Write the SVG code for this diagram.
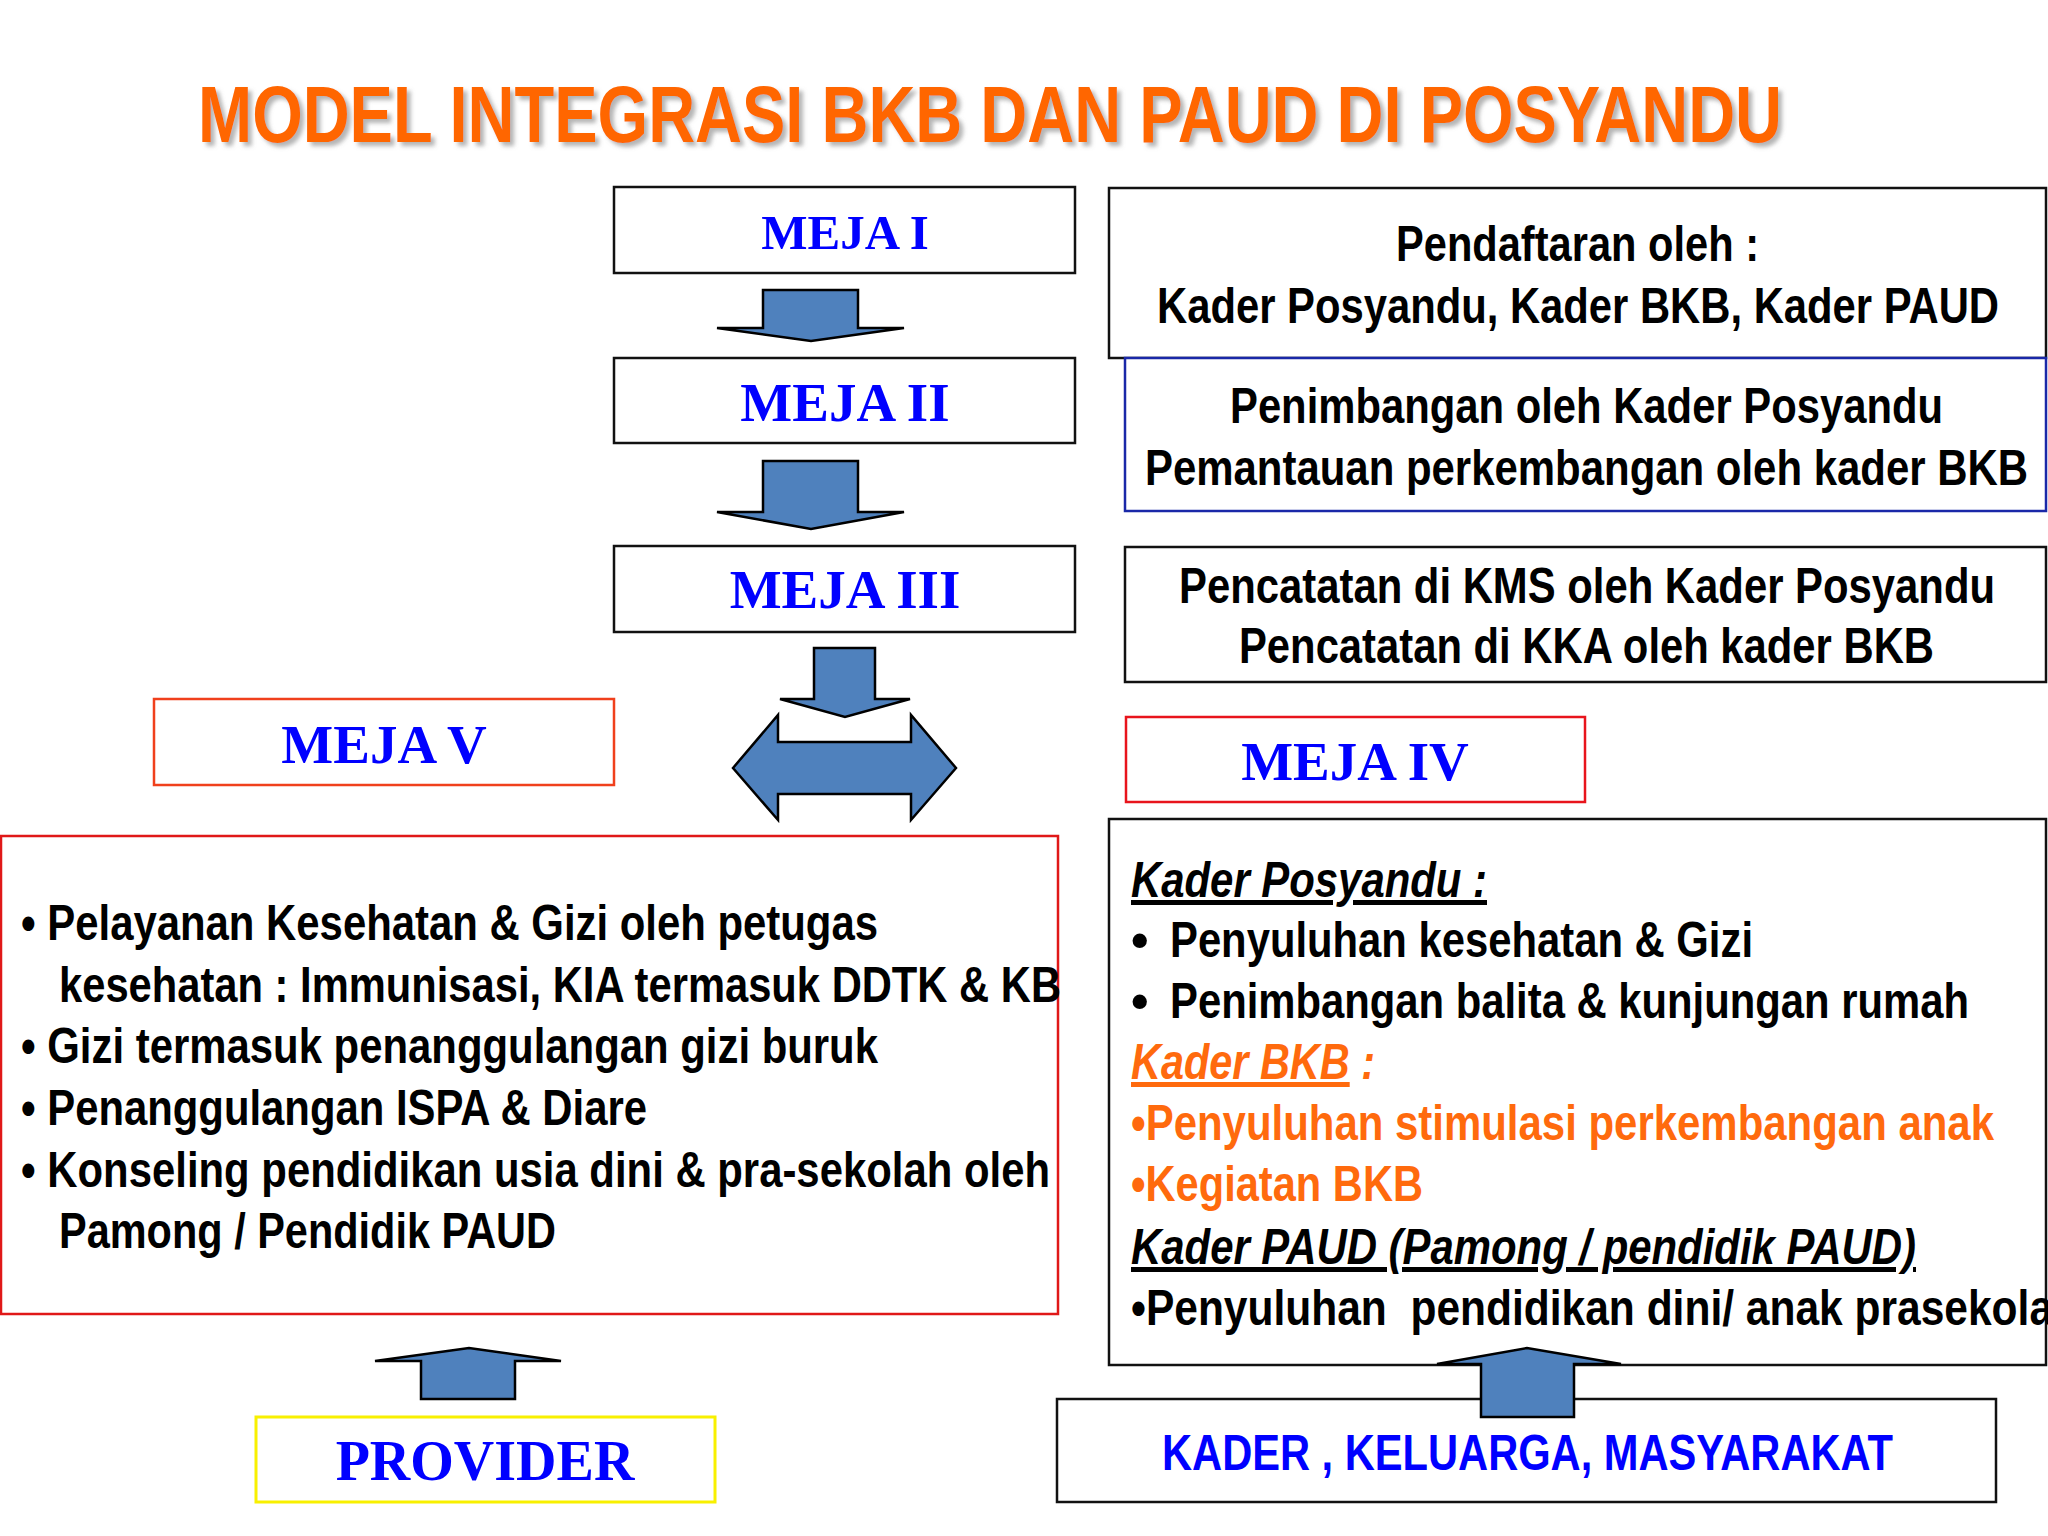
<svg xmlns="http://www.w3.org/2000/svg" width="2048" height="1536" viewBox="0 0 2048 1536">
<defs>
<filter id="shadow" x="-5%" y="-20%" width="110%" height="150%">
<feDropShadow dx="4" dy="4" stdDeviation="2" flood-color="#777" flood-opacity="0.55"/>
</filter>
</defs>
<style>
.box{fill:#fff;stroke:#111;stroke-width:2.5}
.red{fill:#fff;stroke:#e8141c;stroke-width:2.5}
.meja{font-family:"Liberation Serif","Times New Roman",serif;font-weight:bold;fill:#0000ff;text-anchor:middle}
.nar{font-family:"Liberation Sans",Arial,sans-serif;font-weight:bold;font-size:50px;fill:#000}
.org{fill:#ff6a0d}
.it{font-style:italic}
.ul{text-decoration:underline}
.arr{fill:#4f81bd;stroke:#000;stroke-width:2.5;stroke-linejoin:miter}
</style>
<rect width="2048" height="1536" fill="#fff"/>

<g id="title">
<text x="198" y="142" font-family="'Liberation Sans',Arial,sans-serif" font-weight="bold" font-size="80" fill="#ff6600" textLength="1584" lengthAdjust="spacingAndGlyphs" filter="url(#shadow)">MODEL INTEGRASI BKB DAN PAUD DI POSYANDU</text>
</g>

<g id="meja1">
<rect class="box" x="614" y="187" width="461" height="86"/>
<text class="meja" x="845" y="249" font-size="49">MEJA I</text>
</g>
<g id="meja2">
<rect class="box" x="614" y="358" width="461" height="85"/>
<text class="meja" x="845" y="421" font-size="55">MEJA II</text>
</g>
<g id="meja3">
<rect class="box" x="614" y="546" width="461" height="86"/>
<text class="meja" x="845" y="608" font-size="55">MEJA III</text>
</g>

<g id="desc1">
<rect class="box" x="1109" y="188" width="937" height="170"/>
<text class="nar" x="1396" y="261" textLength="363" lengthAdjust="spacingAndGlyphs">Pendaftaran oleh :</text>
<text class="nar" x="1157" y="323" textLength="842" lengthAdjust="spacingAndGlyphs">Kader Posyandu, Kader BKB, Kader PAUD</text>
</g>
<g id="desc2">
<rect x="1125" y="358" width="921" height="153" fill="#fff" stroke="#1a28a8" stroke-width="2.5"/>
<text class="nar" x="1230" y="423" textLength="713" lengthAdjust="spacingAndGlyphs">Penimbangan oleh Kader Posyandu</text>
<text class="nar" x="1145" y="485" textLength="883" lengthAdjust="spacingAndGlyphs">Pemantauan perkembangan oleh kader BKB</text>
</g>
<g id="desc3">
<rect class="box" x="1125" y="547" width="921" height="135"/>
<text class="nar" x="1179" y="603" textLength="816" lengthAdjust="spacingAndGlyphs">Pencatatan di KMS oleh Kader Posyandu</text>
<text class="nar" x="1239" y="663" textLength="695" lengthAdjust="spacingAndGlyphs">Pencatatan di KKA oleh kader BKB</text>
</g>

<g id="meja5">
<rect x="154" y="699" width="460" height="86" fill="#fff" stroke="#f0401c" stroke-width="2.5"/>
<text class="meja" x="384" y="763" font-size="55">MEJA V</text>
</g>
<g id="meja4">
<rect class="red" x="1126" y="717" width="459" height="85"/>
<text class="meja" x="1355" y="780" font-size="55">MEJA IV</text>
</g>

<g id="meja5-content">
<rect x="1" y="836" width="1057" height="478" fill="#fff" stroke="#e01818" stroke-width="2.5"/>
<text class="nar" x="21" y="940" textLength="857" lengthAdjust="spacingAndGlyphs">• Pelayanan Kesehatan &amp; Gizi oleh petugas</text>
<text class="nar" x="59" y="1002" textLength="1002" lengthAdjust="spacingAndGlyphs">kesehatan : Immunisasi, KIA termasuk DDTK &amp; KB</text>
<text class="nar" x="21" y="1063" textLength="857" lengthAdjust="spacingAndGlyphs">• Gizi termasuk penanggulangan gizi buruk</text>
<text class="nar" x="21" y="1125" textLength="626" lengthAdjust="spacingAndGlyphs">• Penanggulangan ISPA &amp; Diare</text>
<text class="nar" x="21" y="1187" textLength="1029" lengthAdjust="spacingAndGlyphs">• Konseling pendidikan usia dini &amp; pra-sekolah oleh</text>
<text class="nar" x="59" y="1248" textLength="497" lengthAdjust="spacingAndGlyphs">Pamong / Pendidik PAUD</text>
</g>

<g id="meja4-content">
<rect class="box" x="1109" y="819" width="937" height="546"/>
<text class="nar it ul" x="1131" y="897" textLength="356" lengthAdjust="spacingAndGlyphs">Kader Posyandu :</text>
<text class="nar" x="1131" y="957">•</text>
<text class="nar" x="1170" y="957" textLength="583" lengthAdjust="spacingAndGlyphs">Penyuluhan kesehatan &amp; Gizi</text>
<text class="nar" x="1131" y="1018">•</text>
<text class="nar" x="1170" y="1018" textLength="799" lengthAdjust="spacingAndGlyphs">Penimbangan balita &amp; kunjungan rumah</text>
<text class="nar it org" x="1131" y="1079" textLength="244" lengthAdjust="spacingAndGlyphs"><tspan class="ul">Kader BKB</tspan> :</text>
<text class="nar org" x="1131" y="1140" textLength="863" lengthAdjust="spacingAndGlyphs">•Penyuluhan stimulasi perkembangan anak</text>
<text class="nar org" x="1131" y="1201" textLength="292" lengthAdjust="spacingAndGlyphs">•Kegiatan BKB</text>
<text class="nar it ul" x="1131" y="1264" textLength="785" lengthAdjust="spacingAndGlyphs">Kader PAUD (Pamong / pendidik PAUD)</text>
<text class="nar" x="1131" y="1325" textLength="948" lengthAdjust="spacingAndGlyphs" xml:space="preserve">•Penyuluhan  pendidikan dini/ anak prasekolah</text>
</g>

<g id="provider">
<rect x="256" y="1417" width="459" height="85" fill="#fff" stroke="#f8f000" stroke-width="3"/>
<text class="meja" x="485" y="1480" font-size="56">PROVIDER</text>
</g>

<g id="kader">
<rect class="box" x="1057" y="1399" width="939" height="103"/>
<text class="nar" x="1162" y="1470" style="fill:#0000ff" textLength="731" lengthAdjust="spacingAndGlyphs">KADER , KELUARGA, MASYARAKAT</text>
</g>

<g id="connectors">
<polygon class="arr" points="763,290 858,290 858,328 904,328 811,341 717,328 763,328"/>
<polygon class="arr" points="763,461 858,461 858,512 904,512 811,529 717,512 763,512"/>
<polygon class="arr" points="814,648 875,648 875,699 910,699 845,717 780,699 814,699"/>
<polygon class="arr" points="733,768 778,715 778,742 911,742 911,715 956,768 911,820 911,794 778,794 778,820"/>
<polygon class="arr" points="421,1399 421,1361 375,1361 469,1348 561,1361 515,1361 515,1399"/>
<polygon class="arr" points="1481,1417 1481,1364 1437,1364 1527,1348 1621,1364 1574,1364 1574,1417"/>
</g>
</svg>
